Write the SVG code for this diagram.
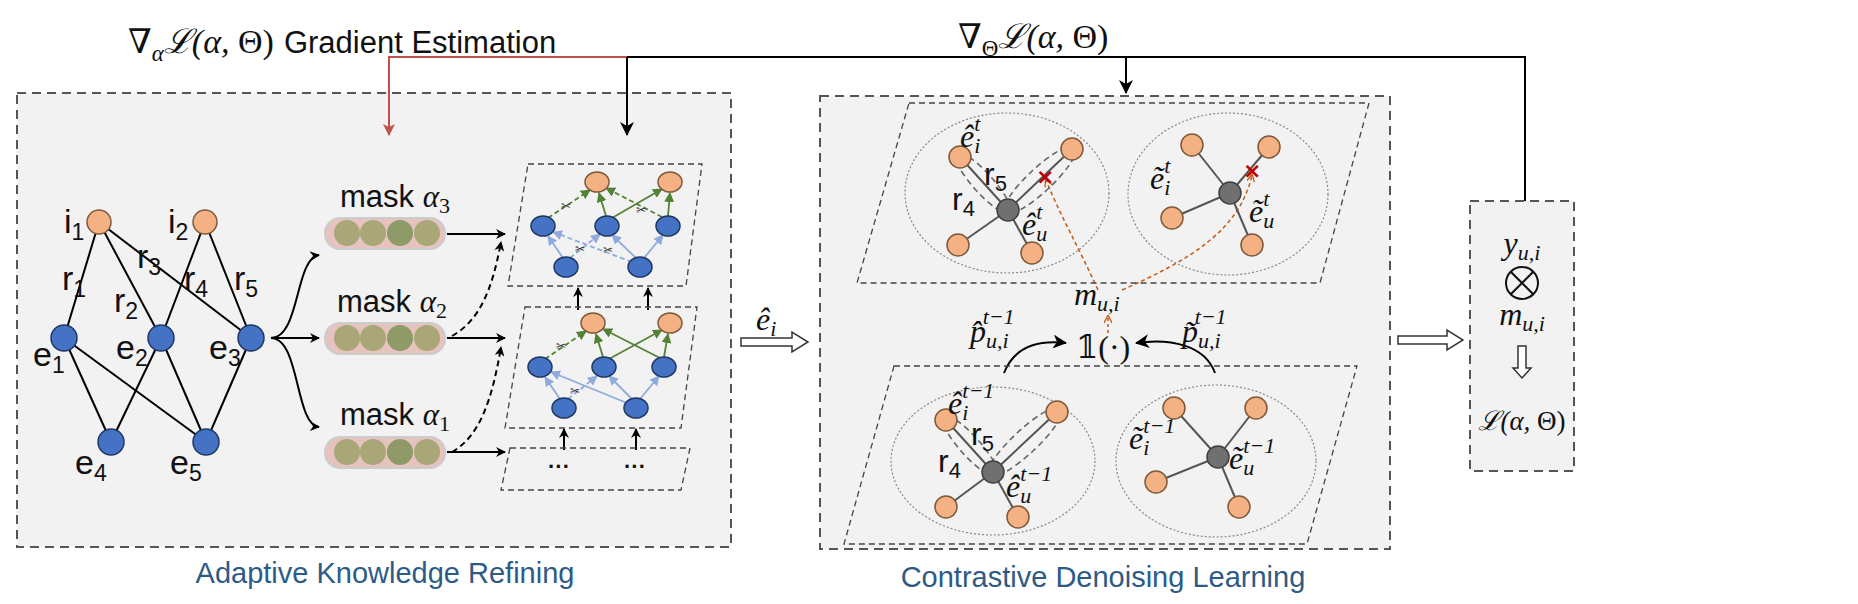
<svg xmlns="http://www.w3.org/2000/svg" width="1858" height="604" viewBox="0 0 1858 604">
<style>
.panel{fill:#f2f2f2;stroke:#555;stroke-width:2;stroke-dasharray:9 6}
.sub{fill:none;stroke:#444;stroke-width:1.3;stroke-dasharray:6 4}
.circ{fill:none;stroke:#888;stroke-width:1.2;stroke-dasharray:2 2}
.or{fill:#f4b183;stroke:#7f5a3a;stroke-width:1.5}
.bl{fill:#4472c4;stroke:#203864;stroke-width:1.5}
.gr{fill:#707070;stroke:#404040;stroke-width:1.5}
.e{stroke:#000;stroke-width:2;fill:none}
.se{stroke:#555;stroke-width:2;fill:none}
.g{stroke:#548235;stroke-width:1.8;fill:none;marker-end:url(#ag)}
.gd{stroke:#548235;stroke-width:1.8;fill:none;stroke-dasharray:5 3;marker-end:url(#ag)}
.b{stroke:#8faadc;stroke-width:1.8;fill:none;marker-end:url(#ab)}
.bd{stroke:#8faadc;stroke-width:1.8;fill:none;stroke-dasharray:5 3;marker-end:url(#ab)}
.sans{font-family:"Liberation Sans Narrow","Liberation Sans",Arial,sans-serif;fill:#111}
.m{font-family:"Liberation Serif","DejaVu Serif",serif;font-style:italic;fill:#111}
.mu{font-family:"Liberation Serif","DejaVu Serif",serif;fill:#111}
.cap{font-family:"Liberation Sans",Arial,sans-serif;fill:#2e5b86;font-size:29px;text-anchor:middle}
.sc{font-family:"DejaVu Sans",sans-serif;font-size:12px;fill:#333}
.pill{fill:#e6c3bf;stroke:#ccc;stroke-width:2}
.pc{fill:#a9a777}
.hollow{fill:#fff;stroke:#333;stroke-width:1.5}
</style>
<defs>
<marker id="ak" markerWidth="10" markerHeight="10" refX="9" refY="5" orient="auto" markerUnits="userSpaceOnUse"><path d="M0,0 L10,5 L0,10 L3,5 z" fill="#000"/></marker>
<marker id="ar" markerWidth="12" markerHeight="12" refX="11" refY="6" orient="auto" markerUnits="userSpaceOnUse"><path d="M0,0 L12,6 L0,12 L3,6 z" fill="#c0504d"/></marker>
<marker id="ak2" markerWidth="14" markerHeight="14" refX="13" refY="7" orient="auto" markerUnits="userSpaceOnUse"><path d="M0,0 L14,7 L0,14 L4,7 z" fill="#000"/></marker>
<marker id="ag" markerWidth="10" markerHeight="10" refX="9" refY="5" orient="auto" markerUnits="userSpaceOnUse"><path d="M0,0 L10,5 L0,10 z" fill="#548235"/></marker>
<marker id="ab" markerWidth="10" markerHeight="10" refX="9" refY="5" orient="auto" markerUnits="userSpaceOnUse"><path d="M0,0 L10,5 L0,10 z" fill="#8faadc"/></marker>
<marker id="ao" markerWidth="8" markerHeight="8" refX="7" refY="4" orient="auto" markerUnits="userSpaceOnUse"><path d="M0,0 L8,4 L0,8" fill="none" stroke="#c55a11" stroke-width="1.3"/></marker>
</defs>

<g id="panels">
<rect class="panel" x="17" y="93" width="714" height="454"/>
<rect class="panel" x="820" y="96" width="570" height="453"/>
<rect class="panel" x="1470" y="201" width="104" height="270"/>
</g>

<g id="title">
<text x="128" y="53" font-size="34"><tspan class="mu">∇</tspan><tspan class="m" font-size="23" dy="8">α</tspan><tspan class="m" dy="-8">ℒ(α, </tspan><tspan class="mu">Θ)</tspan><tspan class="sans" font-size="31" dx="10">Gradient Estimation</tspan></text>
<text x="958" y="48" font-size="34"><tspan class="mu">∇</tspan><tspan class="mu" font-size="23" dy="8">Θ</tspan><tspan class="m" dy="-8">ℒ(α, </tspan><tspan class="mu">Θ)</tspan></text>
</g>

<g id="connectors">
<path d="M627,57 H389 V135" stroke="#c0504d" stroke-width="2" fill="none" marker-end="url(#ar)"/>
<path d="M627,57 V135" class="e" marker-end="url(#ak2)"/>
<path d="M627,57 H1525 V201" class="e"/>
<path d="M1126,57 V93" class="e" marker-end="url(#ak2)"/>
<path d="M271,338 C300,338 295,258 319,255" class="e" marker-end="url(#ak)"/>
<path d="M271,338 H319" class="e" marker-end="url(#ak)"/>
<path d="M271,338 C300,338 295,425 319,427" class="e" marker-end="url(#ak)"/>
<path d="M447,234 H505" class="e" marker-end="url(#ak)"/>
<path d="M447,338 H505" class="e" marker-end="url(#ak)"/>
<path d="M447,452 H505" class="e" marker-end="url(#ak)"/>
<path d="M452,336 C480,320 492,290 501,242" class="e" stroke-dasharray="6 4" marker-end="url(#ak)"/>
<path d="M452,452 C480,436 492,400 501,347" class="e" stroke-dasharray="6 4" marker-end="url(#ak)"/>
<path d="M578,310 V288" class="e" stroke-width="1.6" marker-end="url(#ak)"/>
<path d="M648,310 V288" class="e" stroke-width="1.6" marker-end="url(#ak)"/>
<path d="M564,450 V429" class="e" stroke-width="1.6" marker-end="url(#ak)"/>
<path d="M636,450 V429" class="e" stroke-width="1.6" marker-end="url(#ak)"/>
<path d="M1004,373 C1015,345 1040,340 1066,343" class="e" stroke-width="2.5" marker-end="url(#ak2)"/>
<path d="M1215,373 C1205,345 1170,338 1136,343" class="e" stroke-width="2.5" marker-end="url(#ak2)"/>
<path d="M1108,333 V316" stroke="#c55a11" stroke-width="1.5" stroke-dasharray="3 3" fill="none" marker-end="url(#ao)"/>
<path d="M1098,290 C1080,250 1060,215 1046,180" stroke="#c55a11" stroke-width="1.5" stroke-dasharray="4 3" fill="none" marker-end="url(#ao)"/>
<path d="M1122,290 C1190,260 1240,230 1252,175" stroke="#c55a11" stroke-width="1.5" stroke-dasharray="4 3" fill="none" marker-end="url(#ao)"/>
<path class="hollow" d="M741,338 H792 V332 L808,342 L792,352 V346 H741 z"/>
<path class="hollow" d="M1398,336 H1447 V330 L1463,340 L1447,350 V344 H1398 z"/>
<path class="hollow" d="M1518,346 H1526 V368 H1531 L1522,378 L1513,368 H1518 z"/>
</g>

<g id="kg">
<g class="e">
<line x1="99" y1="222" x2="64" y2="338"/><line x1="99" y1="222" x2="161" y2="338"/><line x1="99" y1="222" x2="251" y2="338"/>
<line x1="205" y1="222" x2="161" y2="338"/><line x1="205" y1="222" x2="251" y2="338"/>
<line x1="64" y1="338" x2="111" y2="442"/><line x1="64" y1="338" x2="206" y2="442"/>
<line x1="161" y1="338" x2="111" y2="442"/><line x1="161" y1="338" x2="206" y2="442"/><line x1="251" y1="338" x2="206" y2="442"/>
</g>
<g id="i1"><circle class="or" cx="99" cy="222" r="12"/><text class="sans" x="64" y="233" font-size="34">i<tspan font-size="23" dy="7">1</tspan></text></g>
<g id="i2"><circle class="or" cx="205" cy="222" r="12"/><text class="sans" x="168" y="233" font-size="34">i<tspan font-size="23" dy="7">2</tspan></text></g>
<g id="e1"><circle class="bl" cx="64" cy="338" r="13"/><text class="sans" x="33" y="366" font-size="34">e<tspan font-size="23" dy="7">1</tspan></text></g>
<g id="e2"><circle class="bl" cx="161" cy="338" r="13"/><text class="sans" x="116" y="359" font-size="34">e<tspan font-size="23" dy="7">2</tspan></text></g>
<g id="e3"><circle class="bl" cx="251" cy="338" r="13"/><text class="sans" x="209" y="359" font-size="34">e<tspan font-size="23" dy="7">3</tspan></text></g>
<g id="e4"><circle class="bl" cx="111" cy="442" r="13"/><text class="sans" x="75" y="474" font-size="34">e<tspan font-size="23" dy="7">4</tspan></text></g>
<g id="e5"><circle class="bl" cx="206" cy="442" r="13"/><text class="sans" x="170" y="474" font-size="34">e<tspan font-size="23" dy="7">5</tspan></text></g>
<g class="sans" font-size="34">
<text x="62" y="290">r<tspan font-size="23" dy="7">1</tspan></text>
<text x="114" y="312">r<tspan font-size="23" dy="7">2</tspan></text>
<text x="137" y="268">r<tspan font-size="23" dy="7">3</tspan></text>
<text x="184" y="290">r<tspan font-size="23" dy="7">4</tspan></text>
<text x="234" y="290">r<tspan font-size="23" dy="7">5</tspan></text>
</g>
</g>

<g id="mask3">
<text x="340" y="207" font-size="31"><tspan class="sans">mask </tspan><tspan class="m">α</tspan><tspan class="mu" font-size="22" dy="6">3</tspan></text>
<rect class="pill" x="325" y="218" width="120" height="31" rx="15"/>
<circle class="pc" cx="347" cy="233" r="13"/><circle class="pc" cx="373" cy="233" r="13"/><circle cx="400" cy="233" r="13" fill="#8e9a68"/><circle class="pc" cx="427" cy="233" r="13"/>
</g>
<g id="mask2">
<text x="337" y="312" font-size="31"><tspan class="sans">mask </tspan><tspan class="m">α</tspan><tspan class="mu" font-size="22" dy="6">2</tspan></text>
<rect class="pill" x="325" y="323" width="120" height="31" rx="15"/>
<circle class="pc" cx="347" cy="338" r="13"/><circle class="pc" cx="373" cy="338" r="13"/><circle cx="400" cy="338" r="13" fill="#8e9a68"/><circle class="pc" cx="427" cy="338" r="13"/>
</g>
<g id="mask1">
<text x="340" y="425" font-size="31"><tspan class="sans">mask </tspan><tspan class="m">α</tspan><tspan class="mu" font-size="22" dy="6">1</tspan></text>
<rect class="pill" x="325" y="437" width="120" height="31" rx="15"/>
<circle class="pc" cx="347" cy="452" r="13"/><circle class="pc" cx="373" cy="452" r="13"/><circle cx="400" cy="452" r="13" fill="#8e9a68"/><circle class="pc" cx="427" cy="452" r="13"/>
</g>

<g id="sub3">
<path class="sub" d="M528,164 H702 L686,286 H508 z"/>
<path class="gd" d="M548,218 L590,190"/><path class="g" d="M606,216 L599,193"/><path class="gd" d="M662,217 L606,188"/>
<path class="g" d="M612,218 L662,189"/><path class="g" d="M668,216 L670,193"/>
<path class="b" d="M563,258 L548,236"/><path class="bd" d="M570,258 L600,234"/><path class="bd" d="M632,262 L553,232"/>
<path class="b" d="M636,258 L612,235"/><path class="b" d="M644,258 L663,235"/>
<ellipse class="or" cx="597" cy="182" rx="12" ry="10"/><ellipse class="or" cx="670" cy="182" rx="12" ry="10"/>
<ellipse class="bl" cx="543" cy="226" rx="12" ry="10"/><ellipse class="bl" cx="607" cy="226" rx="12" ry="10"/><ellipse class="bl" cx="668" cy="226" rx="12" ry="10"/>
<ellipse class="bl" cx="566" cy="267" rx="12" ry="10"/><ellipse class="bl" cx="640" cy="267" rx="12" ry="10"/>
<text class="sc" x="561" y="210">✂</text><text class="sc" x="636" y="214">✂</text><text class="sc" x="575" y="253">✂</text><text class="sc" x="603" y="254">✂</text>
</g>
<g id="sub2">
<path class="sub" d="M525,307 H697 L681,428 H505 z"/>
<path class="gd" d="M545,359 L586,331"/><path class="g" d="M603,357 L596,334"/><path class="g" d="M660,358 L603,329"/>
<path class="g" d="M609,359 L662,330"/><path class="g" d="M664,357 L668,334"/>
<path class="b" d="M560,399 L545,377"/><path class="bd" d="M568,399 L597,376"/><path class="b" d="M627,403 L551,372"/>
<path class="b" d="M632,399 L609,376"/><path class="b" d="M640,399 L659,376"/>
<ellipse class="or" cx="593" cy="323" rx="12" ry="10"/><ellipse class="or" cx="670" cy="323" rx="12" ry="10"/>
<ellipse class="bl" cx="540" cy="367" rx="12" ry="10"/><ellipse class="bl" cx="604" cy="367" rx="12" ry="10"/><ellipse class="bl" cx="664" cy="367" rx="12" ry="10"/>
<ellipse class="bl" cx="564" cy="408" rx="12" ry="10"/><ellipse class="bl" cx="636" cy="408" rx="12" ry="10"/>
<text class="sc" x="556" y="350">✂</text><text class="sc" x="570" y="395">✂</text>
</g>
<g id="sub1">
<path class="sub" d="M510,448 H690 L681,490 H501 z"/>
<text class="sans" x="559" y="474" font-size="22" text-anchor="middle" font-weight="bold">···</text>
<text class="sans" x="635" y="474" font-size="22" text-anchor="middle" font-weight="bold">···</text>
</g>
<text id="ei-label" class="m" x="756" y="330" font-size="32">ê<tspan font-size="22" dy="6">i</tspan></text>

<g id="upper">
<path class="sub" d="M909,103 H1369 L1320,283 H857 z"/>
<ellipse class="circ" cx="1007" cy="193" rx="102" ry="80"/>
<ellipse class="circ" cx="1228" cy="194" rx="100" ry="81"/>
<g id="uleft">
<line class="se" x1="1008" y1="210" x2="960" y2="157"/><line class="se" x1="1008" y1="210" x2="1072" y2="149"/>
<line class="se" x1="1008" y1="210" x2="958" y2="245"/><line class="se" x1="1008" y1="210" x2="1032" y2="253"/>
<ellipse cx="1040" cy="180" rx="48" ry="12" transform="rotate(-43 1040 180)" fill="none" stroke="#666" stroke-width="1.6" stroke-dasharray="6 4"/>
<ellipse cx="983" cy="183" rx="40" ry="10" transform="rotate(48 983 183)" fill="none" stroke="#666" stroke-width="1.6" stroke-dasharray="6 4"/>
<circle class="or" cx="960" cy="157" r="11"/><circle class="or" cx="1072" cy="149" r="11"/><circle class="or" cx="958" cy="245" r="11"/><circle class="or" cx="1032" cy="253" r="11"/>
<circle class="gr" cx="1008" cy="210" r="11"/>
<text x="1036" y="184" font-size="22" fill="#c00000" font-family="DejaVu Sans,sans-serif" font-weight="bold">×</text>
<text class="m" x="960" y="147" font-size="32">ê<tspan font-size="22" dy="6">i</tspan><tspan font-size="22" dx="-6" dy="-22">t</tspan></text>
<text class="sans" x="984" y="185" font-size="32">r<tspan font-size="22" dy="6">5</tspan></text>
<text class="sans" x="952" y="210" font-size="32">r<tspan font-size="22" dy="6">4</tspan></text>
<text class="m" x="1022" y="235" font-size="32">ê<tspan font-size="22" dy="6">u</tspan><tspan font-size="22" dx="-11" dy="-22">t</tspan></text>
</g>
<g id="uright">
<line class="se" x1="1230" y1="193" x2="1192" y2="145"/><line class="se" x1="1230" y1="193" x2="1269" y2="147"/>
<line class="se" x1="1230" y1="193" x2="1172" y2="218"/><line class="se" x1="1230" y1="193" x2="1252" y2="245"/>
<circle class="or" cx="1192" cy="145" r="11"/><circle class="or" cx="1269" cy="147" r="11"/><circle class="or" cx="1172" cy="218" r="11"/><circle class="or" cx="1252" cy="245" r="11"/>
<circle class="gr" cx="1230" cy="193" r="11"/>
<text x="1243" y="178" font-size="22" fill="#c00000" font-family="DejaVu Sans,sans-serif" font-weight="bold">×</text>
<text class="m" x="1150" y="189" font-size="32">ẽ<tspan font-size="22" dy="6">i</tspan><tspan font-size="22" dx="-6" dy="-22">t</tspan></text>
<text class="m" x="1249" y="222" font-size="32">ẽ<tspan font-size="22" dy="6">u</tspan><tspan font-size="22" dx="-11" dy="-22">t</tspan></text>
</g>
</g>

<g id="indicator">
<text class="m" x="1074" y="305" font-size="32">m<tspan font-size="22" dy="6">u,i</tspan></text>
<text class="mu" x="1076" y="358" font-size="32">𝟙(·)</text>
<text class="m" x="970" y="342" font-size="32">p̂<tspan font-size="22" dy="6">u,i</tspan><tspan font-size="22" dx="-26" dy="-24">t−1</tspan></text>
<text class="m" x="1182" y="342" font-size="32">p̃<tspan font-size="22" dy="6">u,i</tspan><tspan font-size="22" dx="-26" dy="-24">t−1</tspan></text>
</g>

<g id="lower">
<path class="sub" d="M894,366 H1357 L1307,544 H844 z"/>
<ellipse class="circ" cx="993" cy="461" rx="102" ry="74"/>
<ellipse class="circ" cx="1216" cy="461" rx="100" ry="76"/>
<g id="lleft">
<line class="se" x1="993" y1="472" x2="946" y2="420"/><line class="se" x1="993" y1="472" x2="1057" y2="412"/>
<line class="se" x1="993" y1="472" x2="946" y2="507"/><line class="se" x1="993" y1="472" x2="1018" y2="517"/>
<ellipse cx="1025" cy="442" rx="50" ry="12" transform="rotate(-43 1025 442)" fill="none" stroke="#666" stroke-width="1.6" stroke-dasharray="6 4"/>
<ellipse cx="970" cy="446" rx="40" ry="10" transform="rotate(48 970 446)" fill="none" stroke="#666" stroke-width="1.6" stroke-dasharray="6 4"/>
<circle class="or" cx="946" cy="420" r="11"/><circle class="or" cx="1057" cy="412" r="11"/><circle class="or" cx="946" cy="507" r="11"/><circle class="or" cx="1018" cy="517" r="11"/>
<circle class="gr" cx="993" cy="472" r="11"/>
<text class="m" x="948" y="414" font-size="32">ê<tspan font-size="22" dy="6">i</tspan><tspan font-size="22" dx="-6" dy="-22">t−1</tspan></text>
<text class="sans" x="971" y="445" font-size="32">r<tspan font-size="22" dy="6">5</tspan></text>
<text class="sans" x="938" y="472" font-size="32">r<tspan font-size="22" dy="6">4</tspan></text>
<text class="m" x="1006" y="497" font-size="32">ê<tspan font-size="22" dy="6">u</tspan><tspan font-size="22" dx="-11" dy="-22">t−1</tspan></text>
</g>
<g id="lright">
<line class="se" x1="1218" y1="457" x2="1174" y2="408"/><line class="se" x1="1218" y1="457" x2="1256" y2="408"/>
<line class="se" x1="1218" y1="457" x2="1156" y2="482"/><line class="se" x1="1218" y1="457" x2="1239" y2="507"/>
<circle class="or" cx="1174" cy="408" r="11"/><circle class="or" cx="1256" cy="408" r="11"/><circle class="or" cx="1156" cy="482" r="11"/><circle class="or" cx="1239" cy="507" r="11"/>
<circle class="gr" cx="1218" cy="457" r="11"/>
<text class="m" x="1129" y="449" font-size="32">ẽ<tspan font-size="22" dy="6">i</tspan><tspan font-size="22" dx="-6" dy="-22">t−1</tspan></text>
<text class="m" x="1229" y="469" font-size="32">ẽ<tspan font-size="22" dy="6">u</tspan><tspan font-size="22" dx="-11" dy="-22">t−1</tspan></text>
</g>
</g>

<g id="lossbox">
<text class="m" x="1522" y="254" font-size="32" text-anchor="middle">y<tspan font-size="22" dy="6">u,i</tspan></text>
<circle cx="1522" cy="283" r="16" fill="none" stroke="#111" stroke-width="2"/>
<path d="M1511,272 L1533,294 M1533,272 L1511,294" stroke="#111" stroke-width="2"/>
<text class="m" x="1522" y="325" font-size="32" text-anchor="middle">m<tspan font-size="22" dy="6">u,i</tspan></text>
<text class="m" x="1522" y="430" font-size="27" text-anchor="middle">ℒ(α, <tspan font-style="normal">Θ)</tspan></text>
</g>

<text class="cap" x="385" y="583">Adaptive Knowledge Refining</text>
<text class="cap" x="1103" y="587">Contrastive Denoising Learning</text>
</svg>
